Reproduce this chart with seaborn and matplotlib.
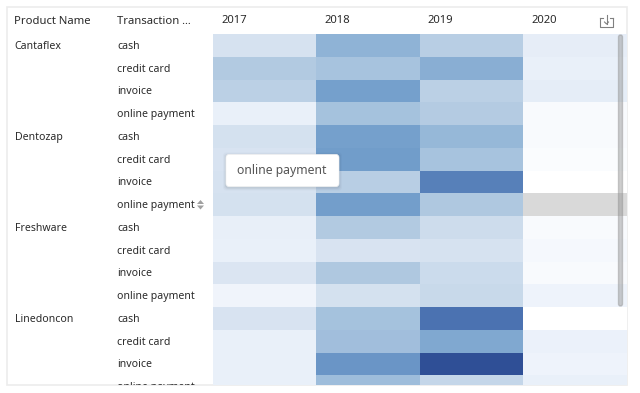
import numpy as np
import pandas as pd
import matplotlib
matplotlib.use('Agg')
import matplotlib.pyplot as plt
import seaborn as sns
from matplotlib.colors import LinearSegmentedColormap
from matplotlib.patches import FancyBboxPatch, Polygon, Rectangle
from matplotlib.transforms import Bbox, blended_transform_factory

# Chart values (colour scale 0-100)
products = ['Cantaflex', 'Dentozap', 'Freshware', 'Linedoncon']
transactions = ['cash', 'credit card', 'invoice', 'online payment']
years = ['2017', '2018', '2019', '2020']
values_2017 = [25, 41, 37, 13, 26, 24, 25, 26, 14, 13, 22, 9, 24, 13, 13, 13]
values_2018 = [55, 45, 67, 46, 67, 69, 38, 68, 41, 24, 42, 26, 46, 48, 72, 49]
values_2019 = [38, 58, 37, 40, 52, 45, 80, 42, 29, 25, 30, 31, 85, 62, 100, 33]
# the hovered cell is greyed out, so it has no colour to read
values_2020 = [15, 13, 16, 4, 4, 3, 0, np.nan, 4, 6, 4, 10, 0, 12, 10, 13]

W, H = 640, 393
TEXT = '#2a2a2a'

plt.rcParams['font.family'] = ['Noto Sans', 'DejaVu Sans']
fig = plt.figure(figsize=(W / 100, H / 100), dpi=100, facecolor='white')

# Card behind everything, pixel coordinates
ui_back = fig.add_axes([0, 0, 1, 1], zorder=0)
ui_back.set_xlim(0, W)
ui_back.set_ylim(H, 0)
ui_back.axis('off')
ui_back.add_patch(Rectangle((6.5, 7), 620.5, 378, fc='white', ec='#ececec', lw=1.2))

# Heatmap
index = pd.MultiIndex.from_product([products, transactions], names=['Product Name', 'Transaction'])
table = pd.DataFrame({'2017': values_2017, '2018': values_2018, '2019': values_2019, '2020': values_2020},
                     index=index)

colors = ['#ffffff', '#eef3fb', '#d6e2f0', '#b4cbe2', '#8fb3d6', '#6f9bc9', '#4b72b1', '#2f4f96']
stops = [0, 0.10, 0.25, 0.40, 0.55, 0.70, 0.85, 1]
cmap = LinearSegmentedColormap.from_list('card_blues', list(zip(stops, colors)))
cmap.set_bad('#d9d9d9')

left, right, top, bottom = 213, 626.8, 34, 385
row_h = 22.75
ax = fig.add_axes([left / W, 1 - bottom / H, (right - left) / W, (bottom - top) / H], zorder=1)
sns.heatmap(table, ax=ax, cmap=cmap, vmin=0, vmax=100, cbar=False, xticklabels=False, yticklabels=False)
ax.set_ylim((bottom - top) / row_h, 0)
ax.set_xlabel('')
ax.set_ylabel('')

# Year headers sit above the columns, left aligned
ax.xaxis.tick_top()
ax.set_xticks(np.arange(len(years)) + 8 / 103.5)
ax.set_xticklabels(years, ha='left', fontsize=8.1, color=TEXT)
ax.tick_params(axis='x', length=0, pad=5.5)

# Row labels, cut off at the bottom edge of the card like the scrolled table
card_clip = Bbox.from_extents(0, H - bottom, W, H)
trans = blended_transform_factory(fig.transFigure, ax.transData)
for i, (product, transaction) in enumerate(table.index):
    t = ax.text(117 / W, i + 0.54, transaction, transform=trans, ha='left', va='center',
                fontsize=7.6, color=TEXT, clip_on=True)
    t.set_clip_box(card_clip)
    if i % len(transactions) == 0:
        ax.text(14.5 / W, i + 0.54, product, transform=trans, ha='left', va='center',
                fontsize=7.6, color=TEXT, clip_on=True).set_clip_box(card_clip)

# Everything on top of the heatmap, pixel coordinates
ui = fig.add_axes([0, 0, 1, 1], zorder=2)
ui.set_xlim(0, W)
ui.set_ylim(H, 0)
ui.axis('off')
ui.patch.set_alpha(0)

ui.text(14.5, 21, 'Product Name', ha='left', va='center', fontsize=8.1, color=TEXT)
ui.text(117, 21, 'Transaction ...', ha='left', va='center', fontsize=8.1, color=TEXT)

# Scrollbar
ui.add_patch(FancyBboxPatch((618.5, 35), 4, 271, boxstyle='round,pad=0,rounding_size=2',
                            fc='#8c8c8c', ec='#8c8c8c', lw=1, alpha=0.42))

# Sort arrows next to the hovered row
ui.add_patch(Polygon([[197, 204], [200.5, 200], [204, 204]], closed=True, fc='#a0a0a0', ec='none'))
ui.add_patch(Polygon([[197, 205.5], [200.5, 209.5], [204, 205.5]], closed=True, fc='#a0a0a0', ec='none'))

# Download icon
ui.plot([600, 600, 613, 613], [18, 27, 27, 18], color='#808080', lw=0.8)
ui.plot([600, 603], [18, 18], color='#808080', lw=0.8)
ui.plot([610, 613], [18, 18], color='#808080', lw=0.8)
ui.plot([606.5, 606.5], [15, 24], color='#808080', lw=0.8)
ui.plot([604.5, 606.5, 608.5], [22, 24, 22], color='#808080', lw=0.8)

# Tooltip with a soft shadow
for grow, alpha in [(3, 0.02), (2, 0.03), (1, 0.05)]:
    ui.add_patch(FancyBboxPatch((226 - grow, 154.5 - grow + 1), 113 + 2 * grow, 32 + 2 * grow,
                                boxstyle='round,pad=0,rounding_size=3', fc='black', ec='none', alpha=alpha))
ui.add_patch(FancyBboxPatch((226, 154.5), 113, 32, boxstyle='round,pad=0,rounding_size=3',
                            fc='white', ec='#f2f2f2', lw=0.5))
ui.text(237, 170.5, 'online payment', ha='left', va='center', fontsize=8.8, color='#555555')

fig.savefig('out.png', dpi=100)
